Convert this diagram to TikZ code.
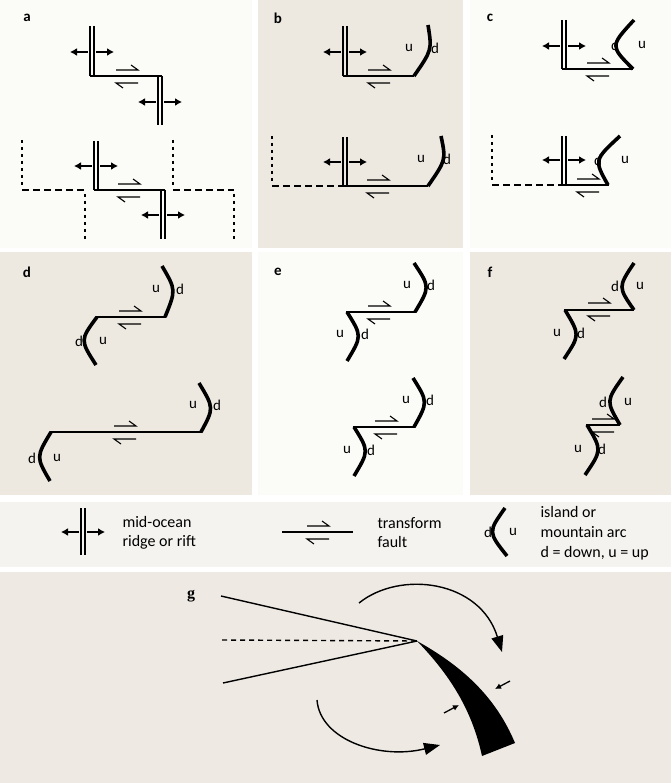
\documentclass[tikz,border=0pt]{standalone}
\usepackage{fontspec}
\setmainfont{Carlito}
\newfontfamily\serifg{Liberation Serif}
\usetikzlibrary{arrows.meta}
\definecolor{beige}{HTML}{EDE9E1}
\definecolor{wpan}{HTML}{FBFBF8}
\definecolor{leg}{HTML}{F5F3EF}
\definecolor{gbg}{HTML}{EEEAE3}
\tikzset{
  lbl/.style={font=\fontsize{15}{15}\selectfont\bfseries},
  ud/.style={font=\fontsize{15}{15}\selectfont},
  legtxt/.style={font=\fontsize{16}{19}\selectfont,align=left,anchor=west},
  arcl/.style={line width=3.6pt},
  fl/.style={line width=1.4pt},
  sp/.style={line width=1.8pt,-{Latex[length=7pt,width=8pt]}},
  dsh/.style={line width=1.3pt,dash pattern=on 7pt off 4pt},
  dot/.style={line width=1.3pt,dash pattern=on 3pt off 4pt},
  pics/shear/.style={code={
    \draw[line width=1.1pt] (-11,-6)--(11,-6)--(4,-11);
    \draw[line width=1.1pt] (11,7)--(-11,7)--(-4,12);}},
  pics/ridge/.style args={#1/#2}{code={
    \draw[line width=1.2pt] (-2,#1)--(-2,#2) (2,#1)--(2,#2);}},
}
\newcommand\sprd[2]{\draw[sp] (#1-4,#2)--(#1-22,#2); \draw[sp] (#1+4,#2)--(#1+22,#2);}
\begin{document}
\begin{tikzpicture}[x=1pt,y=-1pt]
\useasboundingbox (0,0) rectangle (671,783);
\fill[white] (0,0) rectangle (671,783);
% panels
\fill[wpan] (0,0) rectangle (252,248);
\fill[beige] (258,0) rectangle (463,248);
\fill[wpan] (470,0) rectangle (671,248);
\fill[beige] (0,252) rectangle (252,495);
\fill[wpan] (258,252) rectangle (463,495);
\fill[beige] (470,252) rectangle (671,495);
\fill[leg] (0,502) rectangle (671,567);
\fill[gbg] (0,572) rectangle (671,783);
% labels
\node[lbl] (la) at (27,18) {a};
\node[lbl] (lb) at (278,18) {b};
\node[lbl] (lc) at (490,18) {c};
\node[lbl] (ld) at (27,272) {d};
\node[lbl] (le) at (278,272) {e};
\node[lbl] (lf) at (490,272) {f};
% ---- a top
\pic at (92,0) {ridge={26/76}};
\sprd{92}{52}
\draw[fl] (90,76)--(162,76);
\pic at (127,76) {shear};
\pic at (160,0) {ridge={76/125}};
\sprd{160}{102}
% ---- a bottom
\pic at (96,0) {ridge={141/190}};
\sprd{96}{166}
\draw[fl] (94,190)--(165,190);
\pic at (129,190) {shear};
\pic at (163,0) {ridge={190/239}};
\sprd{163}{215}
\draw[dot] (22,140)--(22,186);
\draw[dsh] (22,190)--(85,190);
\draw[dot] (85,194)--(85,239);
\draw[dot] (173,140)--(173,186);
\draw[dsh] (173,190)--(234,190);
\draw[dot] (234,194)--(234,239);
% ---- b top
\pic at (345,0) {ridge={26/76}};
\sprd{345}{52}
\draw[fl] (343,76)--(414,76);
\pic at (379,76) {shear};
\draw[arcl] (414,76) .. controls (432,50) .. (428,25);
\node[ud] (bu1) at (409,48) {u};
\node[ud] (bd1) at (435,48) {d};
% ---- b bottom
\pic at (345,0) {ridge={137/186}};
\sprd{345}{162}
\draw[fl] (343,186)--(428,186);
\pic at (378,186) {shear};
\draw[arcl] (428,186) .. controls (446,160) .. (441,136);
\node[ud] (bu2) at (421,159) {u};
\node[ud] (bd2) at (447,159) {d};
\draw[dot] (272,136)--(272,182);
\draw[dsh] (272,186)--(343,186);
% ---- c top
\pic at (564,0) {ridge={20/69}};
\sprd{564}{46}
\draw[fl] (562,69)--(633,69);
\pic at (598,69) {shear};
\draw[arcl] (633,69) .. controls (610,46) .. (634,20);
\node[ud] (cd1) at (615,45) {d};
\node[ud] (cu1) at (642,45) {u};
% ---- c bottom
\pic at (564,0) {ridge={136/185}};
\sprd{564}{160}
\draw[fl] (562,185)--(609,185);
\pic at (588,185) {shear};
\draw[arcl] (608,185) .. controls (594,160) .. (620,136);
\node[ud] (cd2) at (598,160) {d};
\node[ud] (cu2) at (625,160) {u};
\draw[dot] (492,135)--(492,181);
\draw[dsh] (492,185)--(562,185);
% ---- d top
\draw[fl] (96,317)--(166,317);
\pic at (130,317) {shear};
\draw[arcl] (165,317) .. controls (176,290) .. (162,266);
\draw[arcl] (97,317) .. controls (80,340) .. (96,365);
\node[ud] (du1) at (156,289) {u};
\node[ud] (dd1) at (180,289) {d};
\node[ud] (dd2) at (79,341) {d};
\node[ud] (du2) at (103,341) {u};
% ---- d bottom
\draw[fl] (50,432)--(202,432);
\pic at (125,432) {shear};
\draw[arcl] (201,432) .. controls (214,408) .. (199,383);
\draw[arcl] (51,432) .. controls (36,457) .. (50,481);
\node[ud] (du3) at (193,405) {u};
\node[ud] (dd3) at (217,405) {d};
\node[ud] (dd4) at (32,458) {d};
\node[ud] (du4) at (57,458) {u};
% ---- e top
\draw[fl] (346,312)--(416,312);
\pic at (379,312) {shear};
\draw[arcl] (415,312) .. controls (430,287) .. (414,263);
\draw[arcl] (347,312) .. controls (362,336) .. (347,361);
\node[ud] (eu1) at (407,285) {u};
\node[ud] (ed1) at (431,285) {d};
\node[ud] (eu2) at (340,334) {u};
\node[ud] (ed2) at (365,334) {d};
% ---- e bottom
\draw[fl] (353,427)--(415,427);
\pic at (386,427) {shear};
\draw[arcl] (414,427) .. controls (428,402) .. (413,378);
\draw[arcl] (354,427) .. controls (369,451) .. (354,476);
\node[ud] (eu3) at (406,400) {u};
\node[ud] (ed3) at (430,400) {d};
\node[ud] (eu4) at (347,450) {u};
\node[ud] (ed4) at (371,450) {d};
% ---- f top
\draw[fl] (564,310)--(634,310);
\pic at (599,309) {shear};
\draw[arcl] (634,310) .. controls (618,287) .. (634,263);
\draw[arcl] (565,310) .. controls (580,335) .. (564,359);
\node[ud] (fd1) at (615,286) {d};
\node[ud] (fu1) at (640,286) {u};
\node[ud] (fu2) at (557,333) {u};
\node[ud] (fd2) at (581,333) {d};
% ---- f bottom
\draw[fl] (586,425)--(620,425);
\pic at (603,425) {shear};
\draw[arcl] (620,425) .. controls (606,401) .. (623,377);
\draw[arcl] (587,425) .. controls (602,450) .. (585,475);
\node[ud] (fd3) at (603,402) {d};
\node[ud] (fu3) at (628,402) {u};
\node[ud] (fu4) at (578,449) {u};
\node[ud] (fd4) at (602,449) {d};
% ---- legend
\pic at (83,0) {ridge={508/555}};
\sprd{83}{532}
\node[legtxt] (t1) at (119,533) {mid-ocean\\ridge or rift};
\draw[fl] (282,532)--(353,532);
\pic at (318,532) {shear};
\node[legtxt] (t2) at (374,533) {transform\\fault};
\draw[arcl] (505,508) .. controls (488,532) .. (507,556);
\node[ud] (lgd) at (488,532) {d};
\node[ud] (lgu) at (513,532) {u};
\node[legtxt,font=\fontsize{16}{20}\selectfont] (t3) at (537,533) {island or\\mountain arc\\d = down, u = up};
% ---- g
\node[font=\serifg\fontsize{16}{16}\selectfont\bfseries] (lg) at (191,596) {g};
\coordinate (ap) at (417,641);
\draw[line width=1.4pt] (221,596)--(ap);
\draw[line width=1.4pt] (223,683)--(ap);
\draw[line width=1.4pt,dash pattern=on 5pt off 4pt] (222,640)--(ap);
\fill (ap) .. controls (460,665) and (495,695) .. (515,743) -- (482,756) .. controls (472,710) and (450,675) .. (ap) -- cycle;
\draw[line width=1.4pt,-{Triangle[length=16pt,width=12pt]}] (359,603) .. controls (400,570) and (480,580) .. (502,652);
\draw[line width=1.4pt,-{Triangle[length=16pt,width=12pt]}] (317,700) .. controls (320,740) and (380,760) .. (440,745);
\draw[line width=1.3pt,-{Latex[length=6pt,width=6pt]}] (510,681)--(495,689);
\draw[line width=1.3pt,-{Latex[length=6pt,width=6pt]}] (444,713)--(459,705);
\end{tikzpicture}
\end{document}
